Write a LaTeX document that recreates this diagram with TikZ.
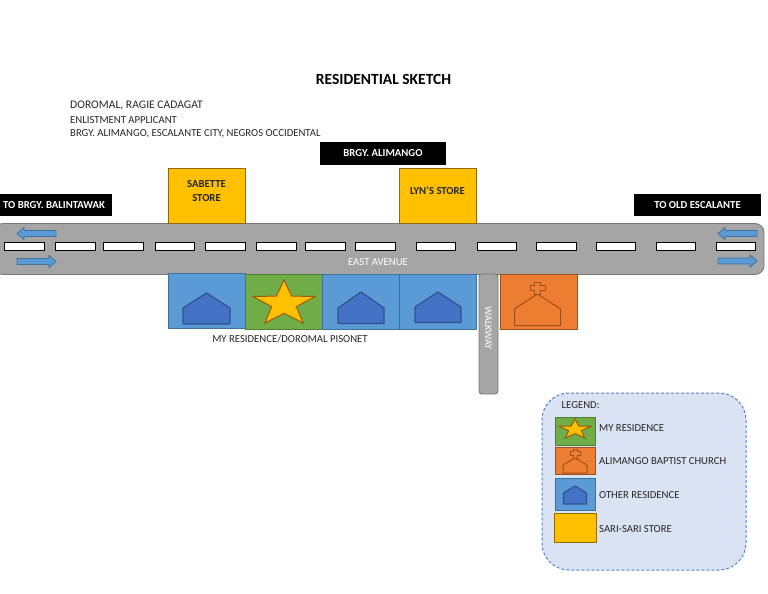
\documentclass[tikz,border=0pt]{standalone}
\usepackage{fontspec}
\setmainfont{Carlito}
\definecolor{tx}{HTML}{262626}
\definecolor{bluef}{HTML}{5B9BD5}
\definecolor{blued}{HTML}{41719C}
\definecolor{housef}{HTML}{4472C4}
\definecolor{housed}{HTML}{2F528F}
\definecolor{greenf}{HTML}{70AD47}
\definecolor{greend}{HTML}{507E32}
\definecolor{yellowf}{HTML}{FFC000}
\definecolor{yellowd}{HTML}{8F6B00}
\definecolor{stard}{HTML}{9A5A10}
\definecolor{orangef}{HTML}{ED7D31}
\definecolor{oranged}{HTML}{A0501C}
\definecolor{roadf}{HTML}{A5A5A5}
\definecolor{roadd}{HTML}{787878}
\definecolor{legf}{HTML}{DAE3F3}
\definecolor{legd}{HTML}{5580C8}
\tikzset{
 x=1pt,y=-1pt,
 lbl/.style={anchor=west,inner sep=0pt,text=tx,font=\fontsize{10.7}{12}\selectfont},
 blk/.style={fill=black,text=white,inner sep=0pt,font=\fontsize{10.7}{12}\selectfont\bfseries},
 store/.style={fill=yellowf,draw=yellowd,line width=.8pt,inner sep=0pt},
 storetext/.style={inner sep=0pt,text=tx,align=center,font=\fontsize{10.7}{14}\selectfont\bfseries},
 lot/.style={fill=bluef,draw=blued,line width=.8pt,inner sep=0pt},
 mine/.style={fill=greenf,draw=greend,line width=.8pt,inner sep=0pt},
 chur/.style={fill=orangef,draw=oranged,line width=.8pt,inner sep=0pt},
 house/.style={fill=housef,draw=housed,line width=1.2pt,line join=round},
 church/.style={fill=orangef,draw=oranged,line width=1pt},
 starp/.style={fill=yellowf,draw=stard,line width=1pt,line join=miter},
 dash box/.style={fill=white,draw=black,line width=.9pt},
 arr/.style={fill=bluef,draw=blued,line width=.8pt},
}
\newcommand{\blockstar}[4]{% cx, cy, rx, ry
 \draw[starp,shift={(#1,#2)},x=#3pt,y=#4pt]
  (90:1) -- (126:.4) -- (162:1) -- (198:.4) -- (234:1) -- (270:.4) -- (306:1) -- (342:.4) -- (18:1) -- (54:.4) -- cycle;}
\newcommand{\housepath}[7]{% style, left, right, top, shoulder, bottom, mid
 \draw[#1] (#2,#6) -- (#2,#5) -- (#7,#4) -- (#3,#5) -- (#3,#6) -- cycle;}
\newcommand{\crosspath}[5]{% cx, top, bottom, halfwidth, armtop
 \draw[church] ({#1-#4*.4},#2) -- ({#1+#4*.4},#2) -- ({#1+#4*.4},#5) -- ({#1+#4},#5) -- ({#1+#4},{#5+.42*(#3-#2)}) -- ({#1+#4*.4},{#5+.42*(#3-#2)}) -- ({#1+#4*.4},#3) -- ({#1-#4*.4},#3) -- ({#1-#4*.4},{#5+.42*(#3-#2)}) -- ({#1-#4},{#5+.42*(#3-#2)}) -- ({#1-#4},#5) -- ({#1-#4*.4},#5) -- cycle;}
\newcommand{\leftarr}[3]{% left,right,midy
 \draw[arr] (#1,#3) -- ({#1+7},{#3-6}) -- ({#1+7},{#3-3}) -- (#2,{#3-3}) -- (#2,{#3+3}) -- ({#1+7},{#3+3}) -- ({#1+7},{#3+6}) -- cycle;}
\newcommand{\rightarr}[3]{%
 \draw[arr] (#2,#3) -- ({#2-7},{#3-6}) -- ({#2-7},{#3-3}) -- (#1,{#3-3}) -- (#1,{#3+3}) -- ({#2-7},{#3+3}) -- ({#2-7},{#3+6}) -- cycle;}
\begin{document}
\begin{tikzpicture}
\useasboundingbox (0,0) rectangle (768,594);
\node[inner sep=0pt,text=black,font=\fontsize{15.5}{17}\selectfont\bfseries] (title) at (383.5,79.5) {RESIDENTIAL SKETCH};
\node[lbl,font=\fontsize{11.6}{14}\selectfont] (name) at (70,105.5) {DOROMAL, RAGIE CADAGAT};
\node[lbl] (role) at (70,120.5) {ENLISTMENT APPLICANT};
\node[lbl] (addr) at (70,133.5) {BRGY. ALIMANGO, ESCALANTE CITY, NEGROS OCCIDENTAL};
% road
\draw[fill=roadf,draw=roadd,line width=.9pt,rounded corners=9pt] (-6,223.5) rectangle (764,274.5);
\node[inner sep=0pt,text=white,font=\fontsize{10.7}{12}\selectfont] (east) at (378,262.5) {EAST AVENUE};
\foreach \a/\b in {4/44,55/95,103/143,155/194,205/245,256/296,305/345,355/395,416/455,477/516,536/576,596/635,656/695,716/755}
 \draw[dash box] (\a,242.5) rectangle (\b,250);
\leftarr{17}{56}{233.5}
\rightarr{17}{56}{261.5}
\leftarr{718}{757}{233.5}
\rightarr{718}{757}{261}
% black labels
\node[blk,minimum width=112pt,minimum height=22pt] (bal) at (56,205) {\hspace*{-4pt}TO BRGY. BALINTAWAK};
\node[blk,minimum width=126pt,minimum height=23pt] (ali) at (383,153.5) {BRGY. ALIMANGO};
\node[blk,minimum width=127pt,minimum height=22pt] (old) at (697.5,205) {TO OLD ESCALANTE};
% stores
\node[store,minimum width=77pt,minimum height=55pt] (sab) at (206.5,195.5) {};
\node[storetext] (sabt) at (206.5,191) {SABETTE\\STORE};
\node[store,minimum width=77pt,minimum height=55pt] (lyn) at (437.5,195.5) {};
\node[storetext] (lynt) at (437.5,191) {LYN'S STORE};
% lots
\node[lot,minimum width=77pt,minimum height=55pt] (lot1) at (206.5,301) {};
\node[mine,minimum width=77pt,minimum height=55pt] (lot2) at (283.5,301.5) {};
\node[lot,minimum width=77pt,minimum height=55pt] (lot3) at (360.5,301.5) {};
\node[lot,minimum width=77pt,minimum height=55pt] (lot4) at (437.5,301.5) {};
\node[chur,minimum width=77pt,minimum height=55pt] (lot5) at (538.5,301.5) {};
\housepath{house}{183}{230}{293}{308}{324}{206.5}
\blockstar{284}{303.8}{32.6}{23.8}
\housepath{house}{338}{384}{292}{308}{323.5}{361}
\housepath{house}{415}{461}{292}{307}{322.5}{438}
\housepath{church}{514.5}{560.5}{294}{309}{325.5}{537.5}
\crosspath{537.5}{282.5}{294}{7.5}{285.5}
\node[inner sep=0pt,text=tx,font=\fontsize{10.7}{12}\selectfont] (myres) at (290,339.5) {MY RESIDENCE/DOROMAL PISONET};
% walkway
\node[fill=roadf,draw=roadd,line width=.9pt,rounded corners=3pt,minimum width=19pt,minimum height=120pt,inner sep=0pt] (walk) at (488.5,334) {};
\node[rotate=-90,inner sep=0pt,text=white,font=\fontsize{10.2}{12}\selectfont] (walkt) at (488.5,328) {WALKWAY};
% legend
\node[fill=legf,draw=legd,dash pattern=on 3pt off 2pt,line width=1pt,rounded corners=27pt,minimum width=204pt,minimum height=177pt,inner sep=0pt] (leg) at (644,481.5) {};
\node[lbl] (legt) at (561.5,405.5) {LEGEND:};
\node[mine,minimum width=40pt,minimum height=28pt] (k1) at (575,431) {};
\blockstar{575}{429.5}{16.5}{10.5}
\node[chur,minimum width=40pt,minimum height=27pt] (k2) at (575,460.5) {};
\housepath{church}{563}{587}{458}{465}{473}{575}
\crosspath{575}{449.5}{458}{5}{451.5}
\node[lot,minimum width=40pt,minimum height=32pt] (k3) at (575,494) {};
\housepath{house}{563.5}{586.5}{486}{493}{504}{575}
\node[store,minimum width=42pt,minimum height=29pt] (k4) at (575,527.5) {};
\node[lbl] (l1) at (599,428) {MY RESIDENCE};
\node[lbl] (l2) at (599,461.5) {ALIMANGO BAPTIST CHURCH};
\node[lbl] (l3) at (599,495.5) {OTHER RESIDENCE};
\node[lbl] (l4) at (599,529) {SARI-SARI STORE};
\end{tikzpicture}
\end{document}
